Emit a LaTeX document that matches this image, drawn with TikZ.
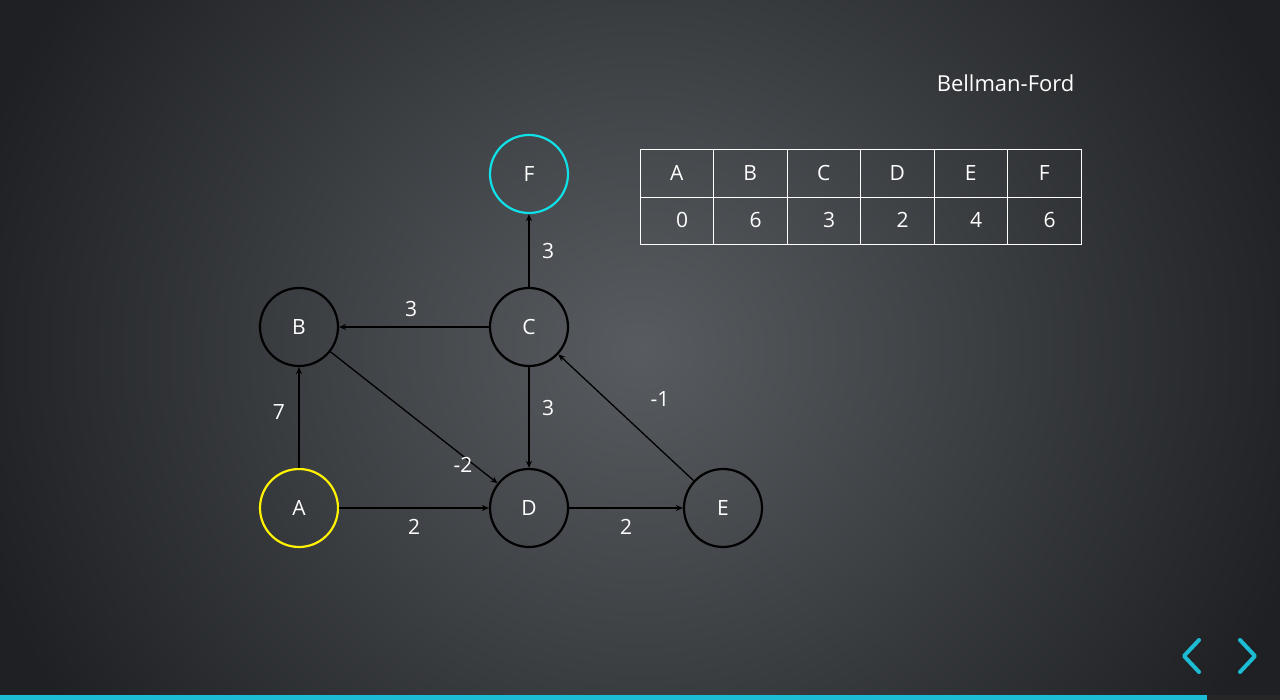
\documentclass[tikz,border=0pt]{standalone}
\usepackage{fontspec}
\setmainfont{Open Sans}
\usetikzlibrary{arrows.meta}
\begin{document}
\begin{tikzpicture}[x=1pt,y=-1pt,
  vtx/.style={circle,draw=black,line width=2.2pt,minimum size=78pt,inner sep=0pt,text=white,font=\fontsize{21}{24}\selectfont},
  edg/.style={draw=black,line width=1.3pt,-{Stealth[length=7pt,width=6pt]}},
  lbl/.style={text=white,font=\fontsize{21}{24}\selectfont},
  cell/.style={text=white,font=\fontsize{21}{24}\selectfont}]
\definecolor{cyanx}{HTML}{1BBCD4}
\definecolor{fcyan}{HTML}{10E0E8}
\useasboundingbox (0,0) rectangle (1280,700);
\begin{scope}
\clip (0,0) rectangle (1280,700);
\path[inner color={rgb,255:red,88;green,92;blue,96},outer color={rgb,255:red,30;green,32;blue,35},shading=radial] (-50,-300) rectangle (1330,1000);
\end{scope}
\fill[cyanx] (0,695) rectangle (1207,700);
\fill[black!85] (1207,695) rectangle (1280,700);
\node (A) [vtx,draw=yellow] at (299,508) {A};
\node (B) [vtx] at (299,327) {B};
\node (C) [vtx] at (529,327) {C};
\node (D) [vtx] at (529,508) {D};
\node (E) [vtx] at (723,508) {E};
\node (F) [vtx,draw=fcyan] at (529,174) {F};
\draw[edg] (C) -- (F);
\draw[edg] (C) -- (B);
\draw[edg] (C) -- (D);
\draw[edg] (E) -- (C);
\draw[edg] (B) -- (D);
\draw[edg] (A) -- (B);
\draw[edg] (A) -- (D);
\draw[edg] (D) -- (E);
\node (l1) [lbl] at (548,251) {3};
\node (l2) [lbl] at (411,309) {3};
\node (l3) [lbl] at (548,408) {3};
\node (l4) [lbl] at (660,399) {-1};
\node (l5) [lbl] at (463,465) {-2};
\node (l6) [lbl] at (279,412) {7};
\node (l7) [lbl] at (414,527) {2};
\node (l8) [lbl] at (626,527) {2};
\node (title) [text=white,font=\fontsize{22}{26}\selectfont,anchor=east] at (1078,83) {Bellman-Ford};
\draw[white,line width=0.8pt] (640,149) rectangle (1081,244);
\draw[white,line width=0.8pt] (640,197) -- (1081,197);
\foreach \i in {1,...,5} \draw[white,line width=0.8pt] (640+73.5*\i,149) -- (640+73.5*\i,244);
\foreach \t/\v [count=\i from 0] in {A/0,B/6,C/3,D/2,E/4,F/6} {
  \node (h\t) [cell] at (676.75+73.5*\i,173) {\t};
  \node (v\t) [cell] at (682+73.5*\i,220) {\v};
}
\draw[cyanx,line width=4pt,line cap=round,line join=round] (1199,640) -- (1184,656) -- (1199,672);
\draw[cyanx,line width=4pt,line cap=round,line join=round] (1240,640) -- (1255,656) -- (1240,672);
\end{tikzpicture}
\end{document}
